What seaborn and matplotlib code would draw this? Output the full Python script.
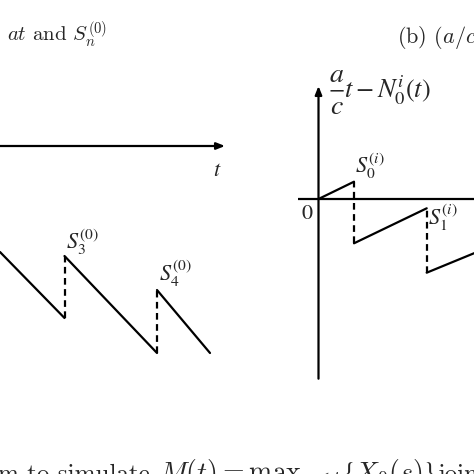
import pandas as pd
import matplotlib
matplotlib.use("Agg")
import matplotlib.pyplot as plt
import seaborn as sns

# panel (a): t axis and the tail of the sawtooth with jumps at S_3, S_4
left_jump_t = [6.45, 15.7]
left_jump_low = [-17.2, -20.7]     # value just before the jump
left_jump_high = [-11.0, -14.4]    # value just after the jump
left_start = [0.0, -10.6]
left_end = [21.0, -20.7]
left_labels = [r"$S_3^{(0)}$", r"$S_4^{(0)}$"]
left_axis_end = 22.5

# panel (b): (a/c)t - N_0^i(t), drops at S_0, S_1
right_jump_t = [3.55, 10.82]
right_jump_high = [1.73, -0.93]
right_jump_low = [-4.43, -7.37]
right_start = [0.0, 0.0]
right_end = [16.0, -5.24]
right_labels = [r"$S_0^{(i)}$", r"$S_1^{(i)}$"]
right_yaxis = [-17.97, 11.3]
right_xaxis = [-2.05, 16.0]


def sawtooth(start, end, jt, before, after):
    # one row pair per straight piece between jumps
    starts = [tuple(start)] + list(zip(jt, after))
    ends = list(zip(jt, before)) + [tuple(end)]
    rows = []
    for k, (p, q) in enumerate(zip(starts, ends)):
        rows.append({"seg": k, "t": p[0], "v": p[1]})
        rows.append({"seg": k, "t": q[0], "v": q[1]})
    return pd.DataFrame(rows)


sns.set_style("white")
LW = 1.6
DASH = (0, (3, 2))
ARROW = dict(arrowstyle="-|>,head_length=0.5,head_width=0.2", color="black",
             lw=LW, shrinkA=0, shrinkB=0)

fig = plt.figure(figsize=(4.74, 4.74), dpi=100)
W = 474.0

# ---- panel (a)
ax1 = fig.add_axes([0, 74 / W, 237 / W, 340 / W])
ax1.set_xlim(0, 23.7)
ax1.set_ylim(-25.4, 8.6)
ax1.axis("off")

df_left = sawtooth(left_start, left_end, left_jump_t, left_jump_low, left_jump_high)
sns.lineplot(data=df_left, x="t", y="v", units="seg", estimator=None, sort=False,
             color="black", lw=LW, ax=ax1, legend=False)
ax1.vlines(left_jump_t, left_jump_low, left_jump_high, colors="black",
           linestyles=DASH, lw=LW)
ax1.annotate("", xy=(left_axis_end, 0), xytext=(-1, 0), arrowprops=ARROW,
             annotation_clip=False)
ax1.annotate(r"$t$", xy=(left_axis_end, 0), xytext=(-8, -24), textcoords="offset pixels",
             ha="center", va="center", fontsize=16, math_fontfamily="stix")
for lbl, t, v, off in zip(left_labels, left_jump_t, left_jump_high, [(2, -1), (2, 1)]):
    ax1.annotate(lbl, xy=(t, v), xytext=off, textcoords="offset pixels",
                 ha="left", va="bottom", fontsize=16, math_fontfamily="stix",
                 annotation_clip=False)

# ---- panel (b)
ax2 = fig.add_axes([288 / W, 74 / W, 186 / W, 340 / W])
ax2.set_xlim(-3.05, 15.55)
ax2.set_ylim(-20.1, 13.9)
ax2.axis("off")

df_right = sawtooth(right_start, right_end, right_jump_t, right_jump_high, right_jump_low)
sns.lineplot(data=df_right, x="t", y="v", units="seg", estimator=None, sort=False,
             color="black", lw=LW, ax=ax2, legend=False)
ax2.vlines(right_jump_t, right_jump_low, right_jump_high, colors="black",
           linestyles=DASH, lw=LW)
ax2.hlines(0, right_xaxis[0], right_xaxis[1], colors="black", lw=LW)
ax2.annotate("", xy=(0, right_yaxis[1]), xytext=(0, right_yaxis[0]), arrowprops=ARROW,
             annotation_clip=False)

# axis name: tall a/c fraction, then t - N_0^i(t)
frac = dict(xy=(0, right_yaxis[1]), textcoords="offset pixels", ha="center",
            va="center", fontsize=20, math_fontfamily="stix", annotation_clip=False)
ax2.annotate(r"$a$", xytext=(18, 12), **frac)
ax2.annotate(r"$c$", xytext=(18, -20), **frac)
ax2.annotate(r"$-$", xytext=(18, -2), **{**frac, "fontsize": 17})
ax2.annotate(r"$t - N_0^i(t)$", xy=(0, right_yaxis[1]), xytext=(25, -12),
             textcoords="offset pixels", ha="left", va="baseline", fontsize=19,
             math_fontfamily="stix", annotation_clip=False)
ax2.annotate("0", xy=(0, 0), xytext=(-12, -15), textcoords="offset pixels",
             ha="center", va="center", fontsize=16, family="STIXGeneral")
for lbl, t, v, off, va in zip(right_labels, right_jump_t, right_jump_high,
                              [(1, 1), (1, 6)], ["bottom", "top"]):
    ax2.annotate(lbl, xy=(t, v), xytext=off, textcoords="offset pixels",
                 ha="left", va=va, fontsize=16, math_fontfamily="stix",
                 annotation_clip=False)

# ---- captions (cropped from the page)
cap = dict(family="cmr10", math_fontfamily="cm", va="baseline", ha="left")
fig.text(7 / W, 1 - 42 / W, r"$at$ and $S_n^{(0)}$", fontsize=15, **cap)
fig.text(397 / W, 1 - 44 / W, r"(b) $(a/c)t - N_0^{(i)}(t)$ and $S_n^{(i)}$",
         fontsize=16, **cap)

# bottom caption: pieces laid left to right (normal-size braces from stix)
renderer = fig.canvas.get_renderer()
pieces = [
    ("m to simulate", 18, "cm", -2),
    (r"$M(t) = \mathrm{max}_{s\leq t}$", 20, "cm", 9),
    (r"$\{$", 20, "stix", 1),
    (r"$X_0(s)$", 20, "cm", 0),
    (r"$\}$", 20, "stix", 0),
    ("jointly with", 18, "cm", 3),
]
x = 0.0
for txt, size, mf, gap in pieces:
    x += gap
    tt = fig.text(x / W, 1 - 481 / W, txt, fontsize=size, family="cmr10",
                  math_fontfamily=mf, va="baseline", ha="left")
    x += tt.get_window_extent(renderer).width

fig.savefig("out.png", dpi=100)
